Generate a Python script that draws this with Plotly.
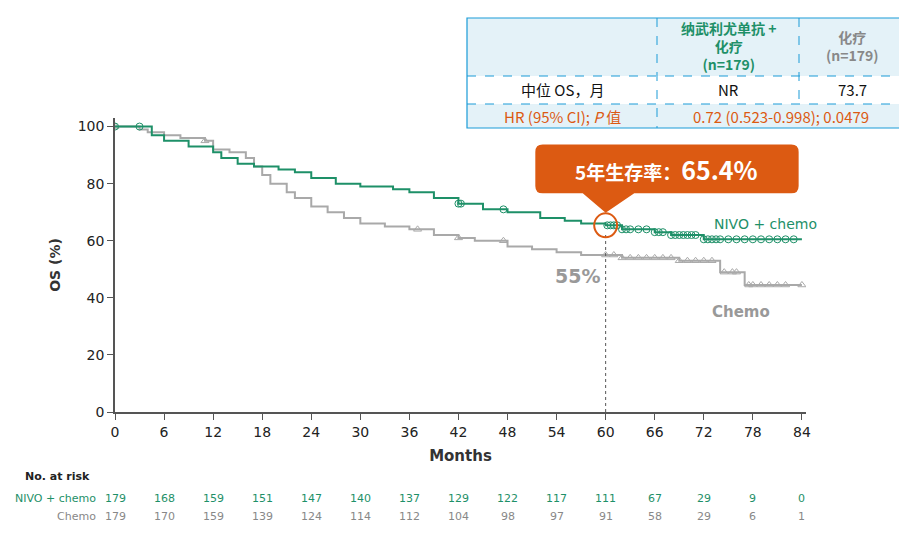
import plotly.graph_objects as go

GREEN = "#1e9068"; GRAY = "#a9a9a9"; ORANGE = "#dc5a12"
FONT = "DejaVu Sans"; CJK = "Noto Sans CJK SC"

# KM step data (time months, survival %)
nivo_t = [0, 4.5, 6, 9, 12, 13, 15, 17, 20, 22, 24, 27, 30, 34, 36, 39, 42, 45, 48, 52, 55, 57, 60, 62, 66, 68, 72, 84]
nivo_s = [100, 97, 95, 93, 91, 89, 87, 86, 85, 84, 82, 80, 79, 78, 77, 75, 73, 71, 70, 68, 67, 66, 65.4, 64, 63, 62, 60.5, 60.5]
chemo_t = [0, 3, 4, 6, 8, 11, 12, 14, 16, 17, 18, 19, 21, 22, 24, 26, 28, 30, 33, 36, 39, 42, 44, 48, 51, 54, 57, 62, 69, 74, 77, 84]
chemo_s = [100, 99, 98, 97, 96, 95, 92, 91, 89, 86, 83, 80, 77, 75, 72, 70, 68, 66, 65, 64, 62, 61, 60, 58, 57, 56, 55, 54, 53, 49, 44.5, 44.5]
nivo_cens = [0, 3, 42, 42.3, 47.5, 60.2, 60.6, 61, 61.4, 62, 62.5, 63, 64, 65, 66, 66.5, 67, 68, 68.5, 69, 69.5, 70, 70.5, 71, 72, 72.5, 73, 73.5, 74, 75, 76, 77, 78, 79, 80, 81, 82, 83]
chemo_cens = [0, 11, 37, 42, 47.5, 60, 61, 62, 63, 64, 65, 66, 67, 68, 69, 70, 71, 72, 73, 74.5, 75.5, 76, 77.5, 78, 79, 80, 81, 82, 84]

months = list(range(0, 85, 6))
risk_nivo = [179, 168, 159, 151, 147, 140, 137, 129, 122, 117, 111, 67, 29, 9, 0]
risk_chemo = [179, 170, 159, 139, 124, 114, 112, 104, 98, 97, 91, 58, 29, 6, 1]

def step_at(ts, ss, x):
    i = max(j for j, t in enumerate(ts) if t <= x)
    return ss[i]

fig = go.Figure()
for ts, ss, cens, col, sym in [(chemo_t, chemo_s, chemo_cens, GRAY, "triangle-up-open"),
                               (nivo_t, nivo_s, nivo_cens, GREEN, "circle-open")]:
    fig.add_trace(go.Scatter(x=ts, y=ss, mode="lines", line=dict(color=col, width=2, shape="hv"),
                             showlegend=False, hoverinfo="skip"))
    fig.add_trace(go.Scatter(x=cens, y=[step_at(ts, ss, c) for c in cens], mode="markers",
                             marker=dict(symbol=sym, size=7, color=col, line=dict(width=1, color=col)),
                             showlegend=False, hoverinfo="skip"))

ML, MR, MT, MB = 107, 109, 110, 135
W, H = 907, 539
fig.update_layout(
    width=W, height=H, margin=dict(l=ML, r=MR, t=MT, b=MB, autoexpand=False),
    plot_bgcolor="white", paper_bgcolor="white", font=dict(family=FONT, color="#333"),
    xaxis=dict(range=[0, 84.5], tickvals=months, showline=True, linecolor="#555", linewidth=1.5,
               ticks="outside", ticklen=6, tickcolor="#555", showgrid=False, zeroline=False,
               tickfont=dict(size=14, color="#222"),
               title=dict(text="<b>Months</b>", font=dict(size=15, color="#333"), standoff=12)),
    yaxis=dict(range=[0, 103], tickvals=[0, 20, 40, 60, 80, 100], showline=True, linecolor="#555",
               linewidth=1.5, ticks="outside", ticklen=6, tickcolor="#555", showgrid=False, zeroline=False,
               tickfont=dict(size=14, color="#222"),
               title=dict(text="<b>OS (%)</b>", font=dict(size=14, color="#333"), standoff=14)),
)

shapes = []
shapes.append(dict(type="line", xref="x", yref="y", x0=60, x1=60, y0=0, y1=63,
                   line=dict(color="#555", width=1, dash="dot")))
shapes.append(dict(type="circle", xref="x", yref="y", x0=58.6, x1=61.4, y0=61.2, y1=69.6,
                   line=dict(color=ORANGE, width=2)))
x0, x1, y0, y1, r, ry = 51.4, 83.6, 76.6, 93.7, 0.9, 2.6
path = (f"M {x0+r},{y1} L {x1-r},{y1} Q {x1},{y1} {x1},{y1-ry} L {x1},{y0+ry} Q {x1},{y0} {x1-r},{y0} "
        f"L 63.5,{y0} L 60,69.8 L 57.2,{y0} L {x0+r},{y0} Q {x0},{y0} {x0},{y0+ry} L {x0},{y1-ry} "
        f"Q {x0},{y1} {x0+r},{y1} Z")
shapes.append(dict(type="path", xref="x", yref="y", path=path, fillcolor=ORANGE, line=dict(width=0)))

# pixel -> paper (paper is relative to plot area)
def px(x): return (x - ML) / (W - ML - MR)
def py(y): return (H - MB - y) / (H - MT - MB)
TL, TR, TT, TB = 459, 898, 10, 120
shapes.append(dict(type="rect", xref="paper", yref="paper", x0=px(TL), x1=px(TR), y0=py(TT), y1=py(68),
                   fillcolor="#e4f2f8", line=dict(width=0), layer="below"))
shapes.append(dict(type="rect", xref="paper", yref="paper", x0=px(TL), x1=px(TR), y0=py(96), y1=py(TB),
                   fillcolor="#e4f2f8", line=dict(width=0), layer="below"))
for yy in [68, 96]:
    shapes.append(dict(type="line", xref="paper", yref="paper", x0=px(TL), x1=px(TR), y0=py(yy), y1=py(yy),
                       line=dict(color="#1a9bd7", width=1, dash="dash")))
for xx in [649, 791]:
    shapes.append(dict(type="line", xref="paper", yref="paper", x0=px(xx), x1=px(xx), y0=py(TT),
                       y1=py(96 if xx == 791 else TB), line=dict(color="#1a9bd7", width=1, dash="dash")))
shapes.append(dict(type="rect", xref="paper", yref="paper", x0=px(TL), x1=px(TR), y0=py(TT), y1=py(TB),
                   line=dict(color="#1a9bd7", width=1.2)))
fig.update_layout(shapes=shapes)

ann = []
def A(x, y, text, size, color, xref="paper", yref="paper", xanchor="center", family=CJK):
    ann.append(dict(x=x, y=y, xref=xref, yref=yref, text=text, showarrow=False, xanchor=xanchor,
                    yanchor="middle", font=dict(size=size, color=color, family=family)))
A(px(720), py(38), "<b>纳武利尤单抗 +<br>化疗<br>(n=179)</b>", 14, GREEN)
A(px(844), py(38), "<b>化疗<br>(n=179)</b>", 14, "#888")
A(px(554), py(82), "中位 OS，月", 15, "#111")
A(px(720), py(82), "NR", 15, "#111")
A(px(844), py(82), "73.7", 15, "#111")
A(px(554), py(108), "HR (95% CI); <i>P</i> 值", 15, ORANGE)
A(px(773), py(108), "0.72 (0.523-0.998); 0.0479", 15, ORANGE)
A(67.5, 85.2, "<b>5年生存率：<span style='font-size:25px'>65.4%</span></b>", 19, "white", "x", "y")
A(73, 66, "NIVO + chemo", 14, GREEN, "x", "y", "left", FONT)
A(72.7, 35, "<b>Chemo</b>", 15, "#999", "x", "y", "left", FONT)
A(56.5, 47.5, "<b>55%</b>", 19, "#999", "x", "y", "center", FONT)
A(px(15), py(468), "<b>No. at risk</b>", 11, "#222", xanchor="left", family=FONT)
A(px(90), py(490), "NIVO + chemo", 11, GREEN, xanchor="right", family=FONT)
A(px(90), py(508), "Chemo", 11, "#888", xanchor="right", family=FONT)
for m, a, b in zip(months, risk_nivo, risk_chemo):
    A(m, py(490), str(a), 11, GREEN, "x", "paper", family=FONT)
    A(m, py(508), str(b), 11, "#888", "x", "paper", family=FONT)
fig.update_layout(annotations=ann)
fig.write_html("out.html")
